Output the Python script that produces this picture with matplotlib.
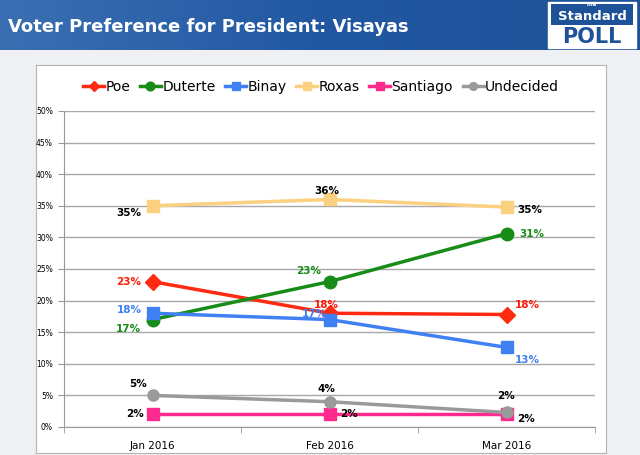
import numpy as np
import matplotlib.pyplot as plt
from matplotlib.patches import Rectangle

months = ["Jan 2016", "Feb 2016", "Mar 2016"]
candidates = ["Poe", "Duterte", "Binay", "Roxas", "Santiago", "Undecided"]

poe = [23, 18, 17.8]
duterte = [17, 23, 30.6]
binay = [18, 17, 12.6]
roxas = [35, 36, 34.8]
santiago = [2, 2, 2]
undecided = [5, 4, 2.3]
series = [poe, duterte, binay, roxas, santiago, undecided]

colors = ["#ff2a12", "#178c17", "#3f80f2", "#fbd07e", "#ff2a8e", "#9a9a9a"]
label_colors = ["#ff1a0a", "#178c17", "#3f80f2", "black", "black", "black"]
markers = ["D", "o", "s", "s", "s", "o"]
msizes = [8, 9, 8, 8, 8, 8]

# label offsets in points (dx, dy, ha) per series per month
offsets = [
    [(-8, 0, "right"), (-2, 6, "center"), (6, 7, "left")],
    [(-8, -7, "right"), (-6, 8, "right"), (9, 0, "left")],
    [(-8, 2, "right"), (-2, 4, "right"), (6, -9, "left")],
    [(-8, -5, "right"), (-2, 6, "center"), (8, -2, "left")],
    [(-6, 0, "right"), (8, 0, "left"), (8, -3, "left")],
    [(-4, 8, "right"), (-2, 9, "center"), (0, 12, "center")],
]

fig = plt.figure(figsize=(6.4, 4.55), dpi=100)
fig.patch.set_facecolor("#eef0f3")

# header band
hax = fig.add_axes([0, 1 - 50 / 455, 1, 50 / 455])
grad = np.linspace(0, 1, 256)[None, :]
hax.imshow(grad, aspect="auto", cmap=plt.matplotlib.colors.LinearSegmentedColormap.from_list(
    "hdr", ["#3a6fb3", "#2258a2", "#1e5298"]), extent=[0, 1, 0, 1])
hax.set_xlim(0, 1)
hax.set_ylim(0, 1)
hax.axis("off")
hax.text(0.013, 0.46, "Voter Preference for President: Visayas", color="white",
         fontsize=13, fontweight="bold", va="center", ha="left")
# logo
hax.add_patch(Rectangle((548 / 640, 0.04), 88 / 640, 0.92, facecolor="white", edgecolor="white"))
hax.add_patch(Rectangle((551 / 640, 0.5), 82 / 640, 0.42, facecolor="#1e5298"))
hax.text(592 / 640, 0.68, "Standard", color="white", fontsize=9.5, fontweight="bold",
         ha="center", va="center")
hax.text(592 / 640, 0.95, "The", color="white", fontsize=4, fontweight="bold",
         ha="center", va="top")
hax.text(592 / 640, 0.26, "POLL", color="#1e5298", fontsize=15, fontweight="bold",
         ha="center", va="center")

# white chart panel
pax = fig.add_axes([36 / 640, 1 - 453 / 455, 570 / 640, 388 / 455], zorder=-1)
pax.set_xticks([])
pax.set_yticks([])
pax.set_facecolor("white")
for s in pax.spines.values():
    s.set_color("#b5b5b5")

ax = fig.add_axes([64 / 640, 1 - 427 / 455, 531 / 640, 316 / 455])
ax.set_facecolor("none")
x = np.arange(len(months))

for i, name in enumerate(candidates):
    vals = np.array(series[i]) / 100
    ax.plot(x, vals, color=colors[i], linewidth=2.5, marker=markers[i],
            markersize=msizes[i], label=name, zorder=3, clip_on=False)
    for j, v in enumerate(series[i]):
        dx, dy, ha = offsets[i][j]
        ax.annotate(f"{round(v)}%", (x[j], v / 100), xytext=(dx, dy),
                    textcoords="offset points", ha=ha, va="center",
                    fontsize=7.5, fontweight="bold", color=label_colors[i], zorder=4)

ax.set_xlim(-0.5, 2.5)
ax.set_ylim(0, 0.5)
ax.set_yticks(np.arange(0, 0.51, 0.05))
ax.set_yticklabels([f"{int(round(t * 100))}%" for t in np.arange(0, 0.51, 0.05)], fontsize=5.5)
ax.grid(axis="y", color="#a8a8a8", linewidth=1)
ax.set_axisbelow(True)
ax.set_xticks(x)
ax.set_xticklabels(months, fontsize=7.5)
ax.tick_params(axis="x", length=0, pad=10)
ax.set_xticks([-0.5, 0.5, 1.5, 2.5], minor=True)
ax.tick_params(axis="x", which="minor", length=4, color="#999999", direction="out")
ax.tick_params(axis="y", length=4, color="#999999", pad=4)
for s in ["top", "right"]:
    ax.spines[s].set_visible(False)
ax.spines["left"].set_color("#999999")
ax.spines["bottom"].set_color("#999999")

fig.legend(loc="center", bbox_to_anchor=(321 / 640, 1 - 87 / 455), ncol=6, frameon=False,
           fontsize=10, handlelength=1.5, handletextpad=0.1, columnspacing=0.7,
           markerscale=0.7)

fig.savefig("out.png", dpi=100, facecolor=fig.get_facecolor())
